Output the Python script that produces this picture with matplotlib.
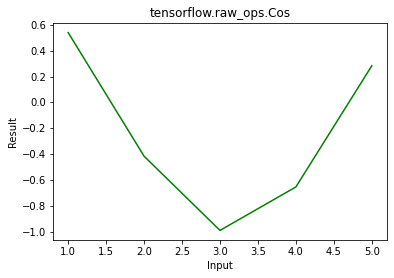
import matplotlib
matplotlib.use("Agg")
import matplotlib.pyplot as plt

inputs = [1.0, 2.0, 3.0, 4.0, 5.0]
results = [0.5403, -0.4161, -0.99, -0.6536, 0.2837]

fig = plt.figure(figsize=(394 / 72, 278 / 72), dpi=72)
ax = fig.add_axes([53 / 394, 1 - 240.3 / 278, (387 - 53) / 394, (240.3 - 22.7) / 278])
ax.plot(inputs, results, color="green")
ax.set_title("tensorflow.raw_ops.Cos")
ax.set_xlabel("Input")
ax.set_ylabel("Result")

fig.savefig("out.png", dpi=72)
